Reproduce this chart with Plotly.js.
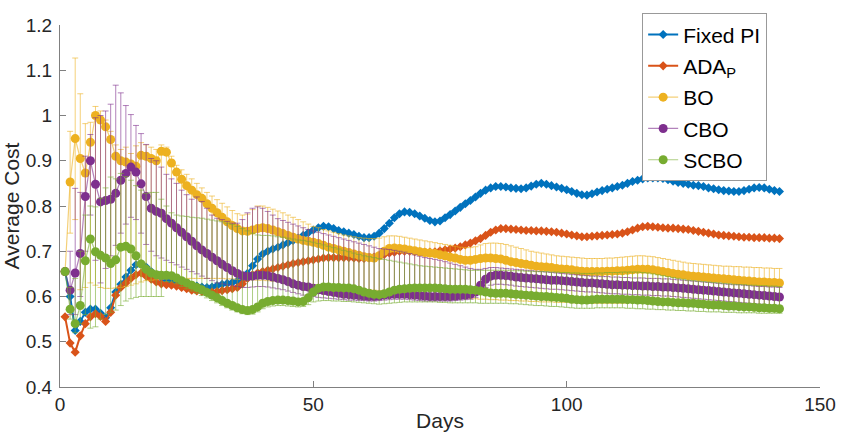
<!DOCTYPE html>
<html>
<head>
<meta charset="utf-8">
<script src="https://cdn.plot.ly/plotly-3.0.1.min.js"></script>
<style>
  html, body { margin: 0; padding: 0; background: #fff; }
  #chart { width: 846px; height: 432px; }
</style>
</head>
<body>
<div id="chart"></div>
<script>
// Average cost per day (days 1..142)
const fixedPI = [
  0.655, 0.600, 0.525, 0.545, 0.565, 0.572, 0.572, 0.563, 0.553, 0.575,
  0.610, 0.627, 0.643, 0.658, 0.670, 0.672, 0.665, 0.655, 0.647, 0.641,
  0.636, 0.633, 0.631, 0.629, 0.627, 0.625, 0.623, 0.621, 0.620, 0.621,
  0.624, 0.627, 0.629, 0.631, 0.634, 0.640, 0.651, 0.668, 0.683, 0.694,
  0.700, 0.705, 0.709, 0.714, 0.719, 0.724, 0.729, 0.735, 0.741, 0.747,
  0.752, 0.755, 0.754, 0.750, 0.746, 0.743, 0.740, 0.737, 0.733, 0.730,
  0.730, 0.733, 0.740, 0.750, 0.762, 0.774, 0.783, 0.787, 0.786, 0.783,
  0.778, 0.773, 0.768, 0.765, 0.767, 0.774, 0.781, 0.789, 0.797, 0.805,
  0.812, 0.820, 0.828, 0.835, 0.840, 0.843, 0.843, 0.842, 0.840, 0.839,
  0.838, 0.840, 0.844, 0.848, 0.850, 0.848, 0.845, 0.842, 0.839, 0.836,
  0.832, 0.828, 0.825, 0.824, 0.827, 0.831, 0.834, 0.837, 0.840, 0.843,
  0.846, 0.850, 0.854, 0.857, 0.860, 0.862, 0.862, 0.862, 0.861, 0.858,
  0.855, 0.852, 0.850, 0.848, 0.846, 0.845, 0.843, 0.840, 0.838, 0.836,
  0.834, 0.833, 0.832, 0.832, 0.834, 0.837, 0.840, 0.841, 0.840, 0.837,
  0.834, 0.832
];

const adaP = [
  0.555, 0.497, 0.477, 0.513, 0.540, 0.555, 0.562, 0.556, 0.545, 0.565,
  0.603, 0.620, 0.630, 0.640, 0.648, 0.652, 0.645, 0.638, 0.632, 0.628,
  0.626, 0.625, 0.623, 0.620, 0.617, 0.614, 0.612, 0.611, 0.610, 0.610,
  0.611, 0.613, 0.615, 0.617, 0.620, 0.628, 0.640, 0.648, 0.652, 0.655,
  0.658, 0.661, 0.664, 0.667, 0.670, 0.673, 0.675, 0.677, 0.679, 0.681,
  0.683, 0.685, 0.686, 0.686, 0.686, 0.686, 0.686, 0.685, 0.684, 0.684,
  0.685, 0.687, 0.690, 0.693, 0.696, 0.698, 0.700, 0.700, 0.700, 0.699,
  0.699, 0.698, 0.698, 0.699, 0.701, 0.703, 0.705, 0.707, 0.710, 0.714,
  0.718, 0.723, 0.728, 0.735, 0.742, 0.747, 0.750, 0.750, 0.749, 0.748,
  0.747, 0.746, 0.746, 0.745, 0.745, 0.744, 0.743, 0.742, 0.740, 0.738,
  0.736, 0.734, 0.732, 0.732, 0.733, 0.734, 0.735, 0.736, 0.737, 0.738,
  0.740, 0.743, 0.747, 0.751, 0.754, 0.755, 0.754, 0.753, 0.752, 0.751,
  0.751, 0.750, 0.749, 0.748, 0.746, 0.744, 0.742, 0.740, 0.738, 0.736,
  0.735, 0.734, 0.733, 0.732, 0.731, 0.731, 0.730, 0.730, 0.730, 0.729,
  0.729, 0.728
];

const bo = [
  0.655, 0.853, 0.949, 0.905, 0.873, 0.941, 1.000, 0.990, 0.975, 0.947,
  0.910, 0.900, 0.897, 0.893, 0.888, 0.912, 0.910, 0.905, 0.900, 0.921,
  0.919, 0.895, 0.875, 0.859, 0.845, 0.835, 0.825, 0.817, 0.805, 0.795,
  0.785, 0.775, 0.765, 0.757, 0.750, 0.745, 0.744, 0.747, 0.750, 0.752,
  0.750, 0.747, 0.743, 0.739, 0.735, 0.731, 0.727, 0.724, 0.722, 0.720,
  0.717, 0.713, 0.709, 0.706, 0.703, 0.700, 0.697, 0.694, 0.691, 0.688,
  0.686, 0.685, 0.690, 0.700, 0.706, 0.707, 0.706, 0.705, 0.703, 0.701,
  0.699, 0.697, 0.696, 0.695, 0.692, 0.690, 0.687, 0.685, 0.682, 0.680,
  0.680, 0.682, 0.684, 0.685, 0.685, 0.684, 0.683, 0.680, 0.677, 0.675,
  0.673, 0.671, 0.669, 0.667, 0.666, 0.665, 0.664, 0.662, 0.661, 0.660,
  0.659, 0.657, 0.656, 0.655, 0.655, 0.655, 0.655, 0.656, 0.656, 0.657,
  0.657, 0.658, 0.659, 0.660, 0.660, 0.660, 0.659, 0.657, 0.655, 0.653,
  0.651, 0.649, 0.648, 0.646, 0.645, 0.644, 0.643, 0.642, 0.641, 0.640,
  0.639, 0.638, 0.637, 0.636, 0.635, 0.634, 0.633, 0.632, 0.632, 0.631,
  0.631, 0.630
];
const boHi = [
  0.655, 0.965, 1.127, 1.048, 0.982, 0.985, 1.020, 1.010, 0.990, 0.965,
  0.935, 0.925, 0.930, 0.916, 0.933, 0.940, 0.935, 0.930, 0.925, 0.935,
  0.930, 0.910, 0.890, 0.880, 0.870, 0.860, 0.850, 0.840, 0.830, 0.822,
  0.814, 0.806, 0.798, 0.790, 0.783, 0.780, 0.782, 0.792, 0.800, 0.800,
  0.797, 0.793, 0.789, 0.785, 0.780, 0.775, 0.770, 0.765, 0.760, 0.755,
  0.752, 0.748, 0.745, 0.742, 0.739, 0.736, 0.734, 0.732, 0.730, 0.729,
  0.728, 0.728, 0.729, 0.732, 0.734, 0.734, 0.733, 0.731, 0.729, 0.727,
  0.725, 0.723, 0.721, 0.719, 0.717, 0.715, 0.713, 0.711, 0.709, 0.708,
  0.708, 0.710, 0.714, 0.717, 0.718, 0.718, 0.717, 0.715, 0.712, 0.709,
  0.706, 0.703, 0.700, 0.698, 0.696, 0.694, 0.692, 0.690, 0.689, 0.688,
  0.687, 0.686, 0.685, 0.684, 0.684, 0.684, 0.684, 0.685, 0.685, 0.686,
  0.687, 0.688, 0.689, 0.690, 0.690, 0.689, 0.688, 0.686, 0.684, 0.682,
  0.680, 0.678, 0.676, 0.674, 0.673, 0.672, 0.671, 0.670, 0.669, 0.668,
  0.667, 0.667, 0.666, 0.666, 0.665, 0.665, 0.664, 0.664, 0.663, 0.663,
  0.662, 0.662
];
const boLo = [
  0.655, 0.740, 0.770, 0.615, 0.620, 0.630, 0.625, 0.620, 0.618, 0.618,
  0.619, 0.620, 0.622, 0.625, 0.628, 0.632, 0.635, 0.636, 0.637, 0.638,
  0.639, 0.640, 0.640, 0.640, 0.640, 0.640, 0.640, 0.640, 0.640, 0.640,
  0.640, 0.640, 0.639, 0.639, 0.638, 0.638, 0.637, 0.637, 0.636, 0.636,
  0.635, 0.634, 0.633, 0.632, 0.631, 0.630, 0.629, 0.628, 0.627, 0.626,
  0.625, 0.624, 0.623, 0.622, 0.621, 0.620, 0.619, 0.618, 0.617, 0.616,
  0.615, 0.614, 0.613, 0.612, 0.611, 0.610, 0.609, 0.608, 0.607, 0.606,
  0.605, 0.604, 0.603, 0.602, 0.601, 0.600, 0.599, 0.598, 0.597, 0.596,
  0.595, 0.595, 0.594, 0.594, 0.593, 0.593, 0.592, 0.592, 0.591, 0.591,
  0.590, 0.590, 0.589, 0.589, 0.588, 0.588, 0.588, 0.587, 0.587, 0.587,
  0.586, 0.586, 0.586, 0.585, 0.585, 0.585, 0.585, 0.585, 0.585, 0.585,
  0.585, 0.586, 0.587, 0.588, 0.588, 0.588, 0.587, 0.586, 0.585, 0.584,
  0.583, 0.582, 0.581, 0.580, 0.580, 0.579, 0.579, 0.578, 0.578, 0.577,
  0.577, 0.577, 0.576, 0.576, 0.576, 0.575, 0.575, 0.575, 0.575, 0.574,
  0.574, 0.574
];

const cbo = [
  0.655, 0.614, 0.652, 0.695, 0.821, 0.900, 0.848, 0.809, 0.812, 0.815,
  0.828, 0.857, 0.872, 0.886, 0.875, 0.849, 0.821, 0.795, 0.788, 0.784,
  0.772, 0.762, 0.752, 0.742, 0.732, 0.722, 0.712, 0.703, 0.695, 0.687,
  0.679, 0.671, 0.664, 0.657, 0.651, 0.646, 0.644, 0.645, 0.647, 0.647,
  0.646, 0.643, 0.640, 0.637, 0.633, 0.628, 0.625, 0.622, 0.621, 0.618,
  0.615, 0.613, 0.611, 0.609, 0.607, 0.605, 0.604, 0.603, 0.602, 0.601,
  0.600, 0.600, 0.601, 0.603, 0.604, 0.605, 0.605, 0.605, 0.604, 0.603,
  0.602, 0.601, 0.600, 0.600, 0.600, 0.600, 0.600, 0.601, 0.602, 0.603,
  0.605, 0.610, 0.625, 0.638, 0.645, 0.647, 0.647, 0.646, 0.645, 0.643,
  0.642, 0.641, 0.640, 0.639, 0.638, 0.637, 0.636, 0.636, 0.635, 0.634,
  0.633, 0.632, 0.631, 0.630, 0.630, 0.629, 0.628, 0.627, 0.626, 0.626,
  0.625, 0.625, 0.624, 0.624, 0.623, 0.623, 0.622, 0.622, 0.621, 0.621,
  0.620, 0.619, 0.618, 0.617, 0.616, 0.615, 0.614, 0.613, 0.612, 0.611,
  0.610, 0.609, 0.608, 0.607, 0.606, 0.605, 0.604, 0.603, 0.602, 0.601,
  0.600, 0.599
];
const cboHi = [
  0.655, 0.700, 0.839, 0.830, 0.910, 0.958, 0.995, 1.000, 1.010, 1.025,
  1.067, 1.050, 1.022, 1.002, 0.978, 0.960, 0.936, 0.905, 0.900, 0.886,
  0.870, 0.860, 0.850, 0.835, 0.825, 0.815, 0.820, 0.810, 0.795, 0.780,
  0.773, 0.770, 0.766, 0.762, 0.762, 0.770, 0.785, 0.795, 0.798, 0.795,
  0.788, 0.780, 0.772, 0.768, 0.764, 0.760, 0.756, 0.752, 0.748, 0.745,
  0.742, 0.739, 0.736, 0.733, 0.730, 0.727, 0.724, 0.721, 0.718, 0.715,
  0.712, 0.709, 0.706, 0.705, 0.704, 0.702, 0.700, 0.698, 0.695, 0.692,
  0.689, 0.686, 0.684, 0.682, 0.680, 0.677, 0.674, 0.671, 0.668, 0.665,
  0.662, 0.660, 0.660, 0.662, 0.664, 0.664, 0.663, 0.662, 0.661, 0.660,
  0.659, 0.658, 0.657, 0.656, 0.655, 0.654, 0.653, 0.652, 0.651, 0.650,
  0.649, 0.648, 0.647, 0.646, 0.645, 0.645, 0.644, 0.644, 0.643, 0.643,
  0.642, 0.642, 0.641, 0.641, 0.641, 0.640, 0.640, 0.640, 0.639, 0.639,
  0.638, 0.637, 0.636, 0.635, 0.634, 0.633, 0.632, 0.631, 0.630, 0.629,
  0.628, 0.627, 0.626, 0.626, 0.625, 0.624, 0.623, 0.622, 0.622, 0.621,
  0.621, 0.620
];
const cboLo = [
  0.655, 0.560, 0.560, 0.600, 0.700, 0.780, 0.680, 0.630, 0.662, 0.690,
  0.713, 0.740, 0.760, 0.775, 0.770, 0.740, 0.715, 0.700, 0.690, 0.685,
  0.680, 0.675, 0.670, 0.665, 0.660, 0.655, 0.650, 0.645, 0.640, 0.635,
  0.630, 0.628, 0.626, 0.624, 0.622, 0.620, 0.620, 0.621, 0.622, 0.622,
  0.621, 0.619, 0.617, 0.615, 0.612, 0.609, 0.606, 0.603, 0.602, 0.600,
  0.598, 0.597, 0.596, 0.595, 0.594, 0.593, 0.592, 0.592, 0.591, 0.591,
  0.590, 0.590, 0.591, 0.592, 0.593, 0.594, 0.594, 0.594, 0.593, 0.592,
  0.591, 0.590, 0.590, 0.590, 0.590, 0.590, 0.590, 0.591, 0.592, 0.593,
  0.594, 0.598, 0.610, 0.620, 0.625, 0.627, 0.627, 0.626, 0.625, 0.623,
  0.622, 0.621, 0.620, 0.619, 0.618, 0.617, 0.616, 0.616, 0.615, 0.614,
  0.613, 0.612, 0.611, 0.610, 0.610, 0.609, 0.608, 0.607, 0.606, 0.606,
  0.605, 0.605, 0.604, 0.604, 0.603, 0.603, 0.602, 0.602, 0.601, 0.601,
  0.600, 0.599, 0.598, 0.597, 0.596, 0.595, 0.594, 0.593, 0.592, 0.591,
  0.590, 0.589, 0.588, 0.587, 0.586, 0.585, 0.584, 0.583, 0.582, 0.581,
  0.580, 0.579
];

const scbo = [
  0.655, 0.572, 0.540, 0.580, 0.679, 0.727, 0.699, 0.691, 0.685, 0.673,
  0.681, 0.709, 0.711, 0.705, 0.690, 0.672, 0.660, 0.652, 0.648, 0.647,
  0.647, 0.646, 0.641, 0.635, 0.630, 0.625, 0.620, 0.615, 0.609, 0.603,
  0.597, 0.591, 0.585, 0.580, 0.575, 0.571, 0.569, 0.571, 0.577, 0.585,
  0.589, 0.591, 0.592, 0.592, 0.591, 0.590, 0.588, 0.589, 0.597, 0.610,
  0.618, 0.621, 0.621, 0.620, 0.620, 0.619, 0.619, 0.617, 0.614, 0.610,
  0.607, 0.605, 0.604, 0.606, 0.610, 0.614, 0.616, 0.617, 0.618, 0.619,
  0.619, 0.619, 0.619, 0.619, 0.618, 0.617, 0.616, 0.616, 0.616, 0.616,
  0.615, 0.614, 0.612, 0.610, 0.608, 0.607, 0.607, 0.607, 0.606, 0.605,
  0.604, 0.603, 0.602, 0.601, 0.600, 0.600, 0.599, 0.598, 0.597, 0.596,
  0.594, 0.593, 0.592, 0.592, 0.593, 0.594, 0.594, 0.594, 0.594, 0.594,
  0.594, 0.593, 0.593, 0.592, 0.592, 0.591, 0.590, 0.589, 0.588, 0.588,
  0.587, 0.586, 0.586, 0.585, 0.585, 0.584, 0.583, 0.582, 0.581, 0.581,
  0.580, 0.579, 0.579, 0.578, 0.577, 0.577, 0.576, 0.575, 0.575, 0.574,
  0.574, 0.573
];
const scboHi = [
  0.655, 0.620, 0.640, 0.700, 0.780, 0.800, 0.798, 0.817, 0.840, 0.864,
  0.860, 0.872, 0.865, 0.857, 0.845, 0.835, 0.828, 0.830, 0.830, 0.815,
  0.800, 0.785, 0.780, 0.778, 0.777, 0.775, 0.774, 0.773, 0.771, 0.769,
  0.767, 0.765, 0.762, 0.759, 0.755, 0.750, 0.745, 0.740, 0.736, 0.735,
  0.735, 0.734, 0.732, 0.731, 0.729, 0.727, 0.725, 0.724, 0.722, 0.720,
  0.717, 0.714, 0.711, 0.708, 0.705, 0.702, 0.699, 0.696, 0.693, 0.690,
  0.688, 0.686, 0.684, 0.682, 0.680, 0.678, 0.676, 0.674, 0.672, 0.670,
  0.668, 0.667, 0.666, 0.665, 0.664, 0.663, 0.662, 0.661, 0.660, 0.659,
  0.658, 0.658, 0.658, 0.658, 0.658, 0.658, 0.658, 0.658, 0.657, 0.657,
  0.657, 0.656, 0.656, 0.655, 0.655, 0.655, 0.654, 0.654, 0.653, 0.653,
  0.652, 0.652, 0.651, 0.651, 0.651, 0.652, 0.652, 0.653, 0.653, 0.653,
  0.654, 0.654, 0.654, 0.654, 0.653, 0.652, 0.650, 0.648, 0.646, 0.644,
  0.642, 0.640, 0.638, 0.636, 0.635, 0.634, 0.633, 0.632, 0.631, 0.630,
  0.629, 0.628, 0.627, 0.626, 0.626, 0.625, 0.625, 0.624, 0.624, 0.623,
  0.623, 0.622
];
const scboLo = [
  0.655, 0.550, 0.520, 0.540, 0.560, 0.530, 0.533, 0.550, 0.560, 0.565,
  0.570, 0.580, 0.590, 0.595, 0.598, 0.600, 0.600, 0.600, 0.600, 0.600,
  0.633, 0.632, 0.628, 0.622, 0.617, 0.612, 0.607, 0.602, 0.597, 0.591,
  0.586, 0.580, 0.575, 0.570, 0.566, 0.562, 0.560, 0.561, 0.566, 0.573,
  0.577, 0.579, 0.580, 0.580, 0.579, 0.578, 0.577, 0.578, 0.582, 0.588,
  0.590, 0.591, 0.591, 0.590, 0.590, 0.589, 0.589, 0.588, 0.587, 0.586,
  0.585, 0.584, 0.583, 0.584, 0.585, 0.586, 0.587, 0.588, 0.588, 0.588,
  0.588, 0.588, 0.588, 0.588, 0.587, 0.587, 0.586, 0.586, 0.586, 0.586,
  0.586, 0.586, 0.585, 0.585, 0.585, 0.585, 0.585, 0.585, 0.584, 0.584,
  0.583, 0.582, 0.581, 0.580, 0.580, 0.579, 0.578, 0.578, 0.577, 0.576,
  0.575, 0.574, 0.574, 0.574, 0.574, 0.575, 0.575, 0.575, 0.575, 0.575,
  0.575, 0.574, 0.574, 0.573, 0.573, 0.572, 0.572, 0.571, 0.571, 0.570,
  0.570, 0.569, 0.569, 0.568, 0.568, 0.567, 0.567, 0.566, 0.566, 0.566,
  0.565, 0.565, 0.565, 0.564, 0.564, 0.564, 0.564, 0.563, 0.563, 0.563,
  0.563, 0.563
];

const seriesNames = ['Fixed PI', 'ADA<sub>P</sub>', 'BO', 'CBO', 'SCBO'];
const xTicks = [0, 50, 100, 150];

const days = fixedPI.map((_, i) => i + 1);
const font = 'Liberation Sans, Arial, sans-serif';

function lineTrace(name, y, color) {
    return {
        type: 'scatter',
        mode: 'lines+markers',
        name: name,
        legendgroup: name,
        x: days,
        y: y,
        line: { color: color, width: 2 },
        marker: { symbol: 'diamond', size: 7, color: color }
    };
}

function errTrace(name, y, hi, lo, color, faded) {
    return {
        type: 'scatter',
        mode: 'lines+markers',
        name: name,
        legendgroup: name,
        x: days,
        y: y,
        line: { color: faded, width: 1.2 },
        marker: { symbol: 'circle', size: 9, color: color },
        error_y: {
            type: 'data',
            symmetric: false,
            array: hi.map((v, i) => v - y[i]),
            arrayminus: lo.map((v, i) => y[i] - v),
            color: faded,
            thickness: 1,
            width: 3
        }
    };
}

const traces = [
    lineTrace(seriesNames[0], fixedPI, '#0072BD'),
    lineTrace(seriesNames[1], adaP, '#D95319'),
    errTrace(seriesNames[2], bo, boHi, boLo, '#EDB120', 'rgba(237,177,32,0.6)'),
    errTrace(seriesNames[3], cbo, cboHi, cboLo, '#7E2F8E', 'rgba(126,47,142,0.6)'),
    errTrace(seriesNames[4], scbo, scboHi, scboLo, '#77AC30', 'rgba(119,172,48,0.6)')
];

const layout = {
    width: 846,
    height: 432,
    margin: { l: 60, r: 26, t: 25, b: 45 },
    paper_bgcolor: '#fff',
    plot_bgcolor: '#fff',
    font: { family: font, size: 19, color: '#262626' },
    showlegend: true,
    xaxis: {
        range: [0, 150],
        tickvals: xTicks,
        ticks: 'inside',
        ticklen: 6,
        tickcolor: '#808080',
        showline: true,
        linecolor: '#808080',
        linewidth: 1,
        showgrid: false,
        zeroline: false,
        automargin: false,
        title: { text: 'Days', standoff: 0, font: { size: 21 } }
    },
    yaxis: {
        range: [0.4, 1.2],
        dtick: 0.1,
        tick0: 0.4,
        ticks: 'inside',
        ticklen: 6,
        ticklabelstandoff: 3,
        tickcolor: '#808080',
        showline: true,
        linecolor: '#808080',
        linewidth: 1,
        showgrid: false,
        zeroline: false,
        automargin: false,
        title: { text: 'Average Cost', standoff: 0, font: { size: 21 } }
    },
    legend: {
        x: 0.766,
        y: 1.032,
        xanchor: 'left',
        yanchor: 'top',
        bgcolor: '#fff',
        bordercolor: '#999',
        borderwidth: 1,
        traceorder: 'grouped',
        tracegroupgap: 1,
        font: { size: 21, color: '#000' }
    }
};

Plotly.newPlot('chart', traces, layout, { displayModeBar: false, staticPlot: true });
</script>
</body>
</html>
